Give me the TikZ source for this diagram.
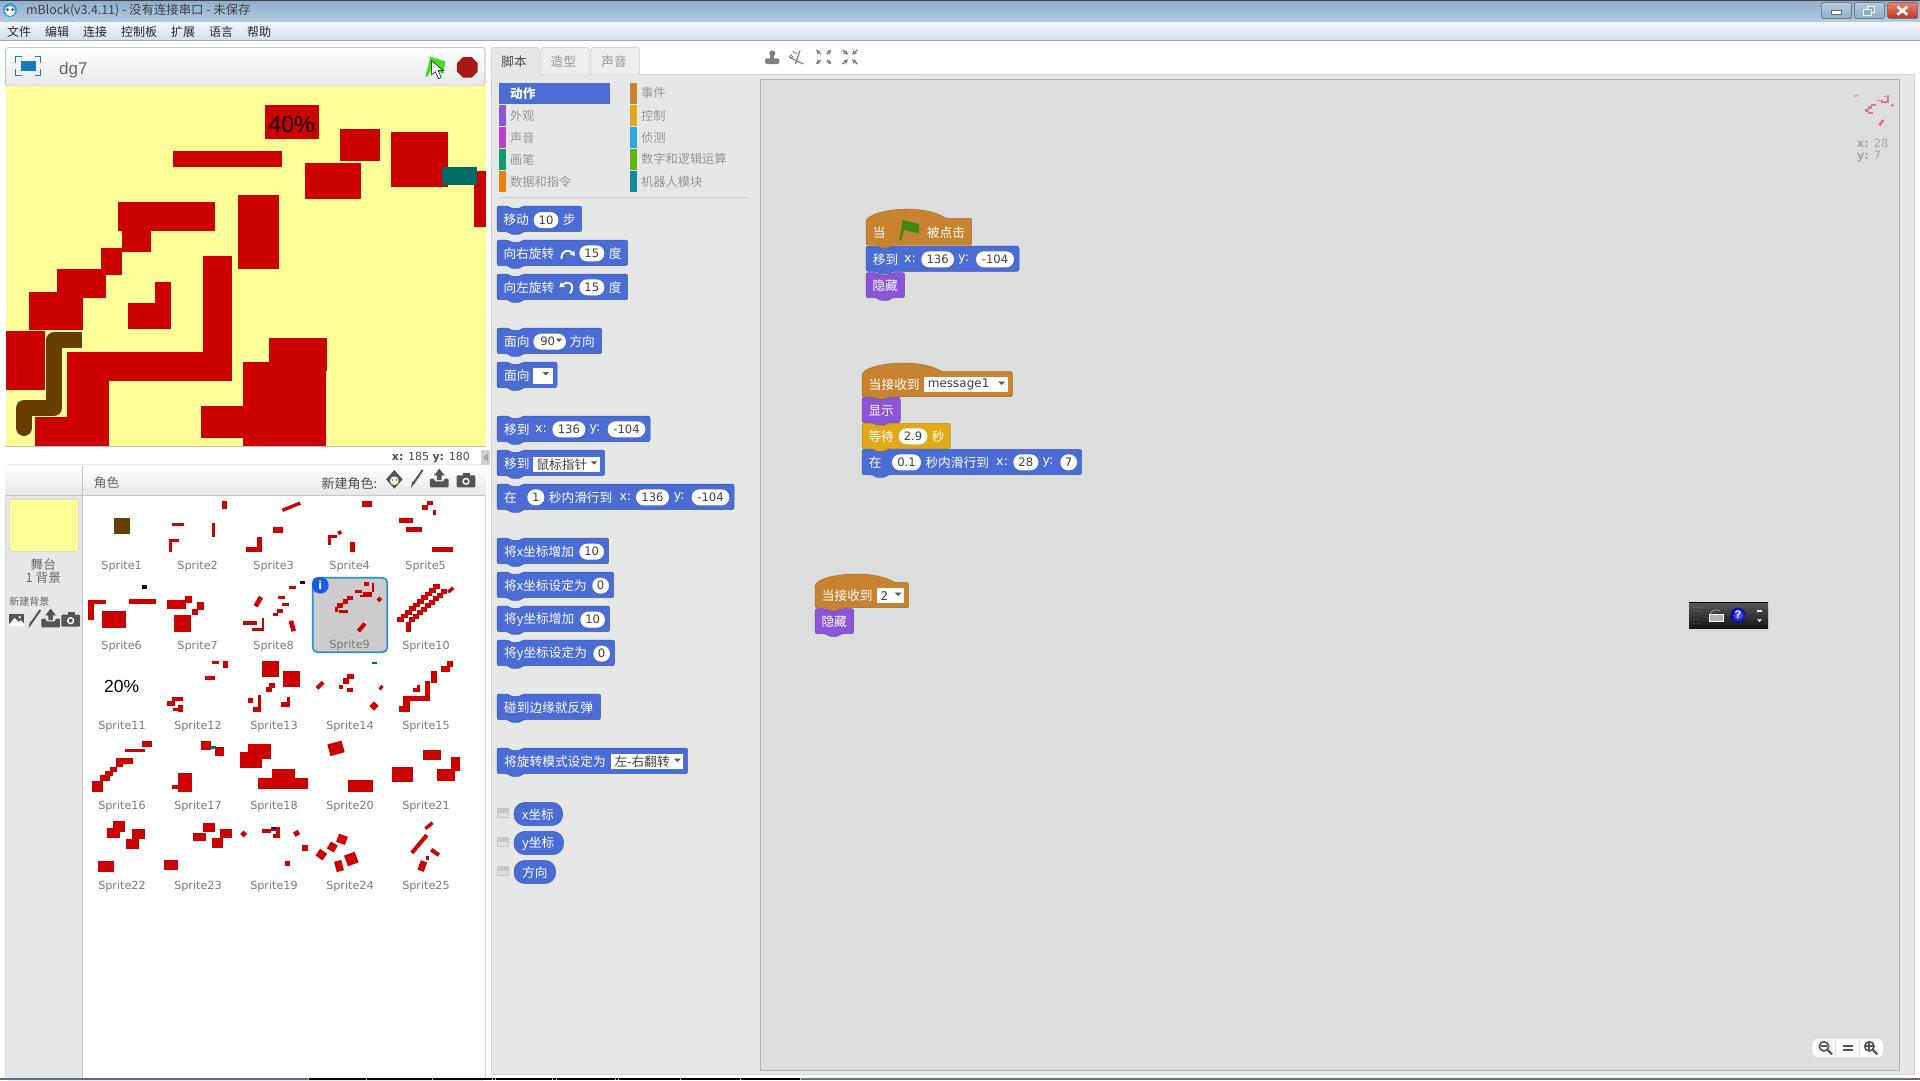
\documentclass[tikz,border=0pt]{standalone}
\usepackage{fontspec}
\usetikzlibrary{arrows.meta}
\setmainfont{Noto Sans CJK SC}
\newfontfamily\lat{Liberation Sans}
\newfontfamily\dej{DejaVu Sans}
\definecolor{mot}{HTML}{4A6CD4}
\definecolor{lok}{HTML}{8A55D7}
\definecolor{snd}{HTML}{BB42C3}
\definecolor{pen}{HTML}{0E9A6C}
\definecolor{dat}{HTML}{EE7D16}
\definecolor{evt}{HTML}{C88330}
\definecolor{ctl}{HTML}{E1A91A}
\definecolor{sns}{HTML}{2CA5E2}
\definecolor{ops}{HTML}{5CB712}
\definecolor{rob}{HTML}{0E8A99}
\definecolor{rd}{HTML}{CC0000}
\definecolor{stg}{HTML}{FFFF99}
\definecolor{pal}{HTML}{E6E8E8}
\definecolor{pane}{HTML}{DCDEDE}
\definecolor{brn}{HTML}{663F00}
\definecolor{tl}{HTML}{006A66}
\definecolor{gt}{HTML}{7A7A7A}
\definecolor{ic}{HTML}{555555}
\definecolor{tool}{HTML}{808080}
\definecolor{catg}{HTML}{959595}
\definecolor{tba}{HTML}{8FAECB}
\definecolor{tbb}{HTML}{B4CBE0}
\definecolor{mna}{HTML}{F2F5FB}
\definecolor{mnb}{HTML}{D5DEED}
\definecolor{mini}{HTML}{D87A88}
\definecolor{cla}{HTML}{E8806A}
\definecolor{clb}{HTML}{B83A2A}
\definecolor{flaga}{HTML}{44DD22}
\definecolor{flagb}{HTML}{3C8A14}
\definecolor{stopc}{HTML}{A81818}
\definecolor{fscr}{HTML}{1878C0}
\definecolor{bota}{HTML}{5A6E85}
\newcounter{nn}
\tikzset{
  zm/.style 2 args={shift={(#1pt,-#2pt)},x=0.33333pt,y=-0.33333pt},
  txt/.style={inner sep=0pt,anchor=west,text=white,font=\fontsize{12.7}{13}\selectfont},
  lbl/.style={inner sep=0pt,text=gt,font=\dej\fontsize{11.2}{12}\selectfont},
  num/.style={inner sep=0pt,text=black!75,font=\dej\fontsize{11.6}{12}\selectfont},
  cat/.style={txt,text=catg},
  lat/.style={font=\dej\fontsize{12.6}{13}\selectfont},
  rotarrow/.style={white,line width=2pt,-{Stealth[length=5pt,width=6.5pt]}},
  toolar/.style={tool,line width=1.5pt,-{Stealth[length=4.5pt,width=5pt]}},
}
\newcommand\tx[4][]{\stepcounter{nn}\node[txt,#1] (t\thenn) at (#2,#3) {#4};}
\newcommand\lab[3]{\stepcounter{nn}\node[lbl] (t\thenn) at (#1,#2+3) {#3};}
\newcommand\blk[5]{\filldraw[fill=#1,draw=#1!82!black,line width=.5pt,rounded corners=2.2pt]
  (#2,#3)--(#2+33,#3)--(#2+42,#3+7)--(#2+69,#3+7)--(#2+78,#3)--(#4,#3)--(#4,#5)
  --(#2+78,#5)--(#2+69,#5+8)--(#2+42,#5+8)--(#2+33,#5)--(#2,#5)--cycle;}
\newcommand\hatblk[6]{\filldraw[fill=#1,draw=#1!82!black,line width=.5pt,rounded corners=1.5pt]
  (#2,#5-6)--(#2,#3+8)..controls(#2+22,#6+2)and(#2+170,#6-14)..(#2+240,#3)--(#4,#3)--(#4,#5)
  --(#2+78,#5)--(#2+69,#5+8)--(#2+42,#5+8)--(#2+33,#5)--(#2,#5)--cycle;}
\newcommand\pl[4]{\fill[white,rounded corners=7.9pt](#1,#3-24)rectangle(#2,#3+24);
  \stepcounter{nn}\node[num] (t\thenn) at ({(#1+#2)/2},#3) {#4};}
\newcommand\dd[5]{\fill[white](#1,#3)rectangle(#2,#4);\stepcounter{nn}\node[txt,text=black!75] (t\thenn) at (#1+10,{(#3+#4)/2}) {#5};
  \fill[ic](#2-28,{(#3+#4)/2-9})--(#2-8,{(#3+#4)/2-9})--(#2-18,{(#3+#4)/2+1})--cycle;}
\newcommand\rep[4]{\fill[gray!45](#1-50,#2+18)rectangle(#1-15,#2+48);\fill[gray!25](#1-47,#2+33)rectangle(#1-18,#2+45);
  \filldraw[fill=mot,draw=mot!82!black,line width=.5pt,rounded corners=11pt](#1,#2)rectangle(#3,#2+70);
  \stepcounter{nn}\node[txt] (t\thenn) at (#1+24,#2+36) {#4};}
\newcommand\rr[4]{\fill[rd](#1,#2)rectangle(#3,#4);}
\newcommand\rs[5]{\fill[rd,rotate around={#5:(#1,#2)}](#1-#3/2,#2-#4/2)rectangle(#1+#3/2,#2+#4/2);}
\newcommand\camera[2]{\fill[ic,rounded corners=1pt](#1-28,#2-14)rectangle(#1+28,#2+22);\fill[ic](#1-8,#2-22)rectangle(#1+12,#2-12);\fill[white](#1,#2+4)circle(11);\fill[ic](#1,#2+4)circle(6);}
\newcommand\upl[2]{\fill[ic,rounded corners=1pt](#1-28,#2)--(#1-14,#2)--(#1-14,#2+8)--(#1+14,#2+8)--(#1+14,#2)--(#1+28,#2)--(#1+28,#2+26)--(#1-28,#2+26)--cycle;\fill[ic](#1,#2-30)--(#1+16,#2-10)--(#1+7,#2-10)--(#1+7,#2+4)--(#1-7,#2+4)--(#1-7,#2-10)--(#1-16,#2-10)--cycle;}
\newcommand\penic[2]{\draw[ic,line width=2pt](#1+18,#2-28)--(#1-10,#2+12);\fill[ic](#1-13,#2+6)--(#1-6,#2+12)--(#1-17,#2+26)--cycle;}
\newcommand\paint[2]{\fill[ic](#1-23,#2-18)rectangle(#1+23,#2+18);\fill[white](#1-23,#2+14)--(#1-6,#2-6)--(#1+6,#2+6)--(#1+12,#2)--(#1+23,#2+12)--(#1+23,#2+18)--(#1-23,#2+18)--cycle;\fill[white](#1+9,#2-9)circle(4);}
\begin{document}
\begin{tikzpicture}[x=1pt,y=-1pt]
\useasboundingbox (0,0) rectangle (1920,1080);
\fill[white](0,0)rectangle(1920,1080);
% ---------- title bar
\shade[top color=tba,bottom color=tbb,shading angle=0](0,0)rectangle(1920,22);
\fill[black!75](0,0)rectangle(1920,1);
\shade[top color=mna,bottom color=mnb](0,22)rectangle(1920,40);
\fill[gray!70](0,40)rectangle(1920,41);
\fill[sns](10,10)circle(7);\fill[white](10,11)circle(5);\fill[black!70](7.5,9.5)circle(1.5);\fill[black!70](12.5,9.5)circle(1.5);
\tx[text=black!75,font=\fontsize{12.4}{13}\selectfont]{26}{10.5}{mBlock(v3.4.11) - 没有连接串口 - 未保存}
\tx[text=black!85,font=\fontsize{12}{13}\selectfont]{7}{32}{文件}
\tx[text=black!85,font=\fontsize{12}{13}\selectfont]{45}{32}{编辑}
\tx[text=black!85,font=\fontsize{12}{13}\selectfont]{83}{32}{连接}
\tx[text=black!85,font=\fontsize{12}{13}\selectfont]{121}{32}{控制板}
\tx[text=black!85,font=\fontsize{12}{13}\selectfont]{171}{32}{扩展}
\tx[text=black!85,font=\fontsize{12}{13}\selectfont]{209}{32}{语言}
\tx[text=black!85,font=\fontsize{12}{13}\selectfont]{247}{32}{帮助}
% window buttons
\begin{scope}[zm={1660}{0}]
\filldraw[draw=black!55,top color=tbb,bottom color=tba,line width=.5pt,rounded corners=1.5pt](484,8)rectangle(575,55);
\filldraw[draw=black!55,top color=tbb,bottom color=tba,line width=.5pt,rounded corners=1.5pt](583,8)rectangle(673,55);
\filldraw[draw=black!55,top color=cla,bottom color=clb,line width=.5pt,rounded corners=1.5pt](683,8)rectangle(773,55);
\filldraw[fill=white,draw=black!60,line width=.4pt](514,32)rectangle(545,44);
\draw[white,line width=1pt,fill=tba](622,18)rectangle(644,36);
\draw[white,line width=1pt,fill=tba](611,28)rectangle(633,46);
\draw[white,line width=2.6pt](712,20)--(742,44);\draw[white,line width=2.6pt](742,20)--(712,44);
\end{scope}
% ---------- stage
\filldraw[draw=gray!45,line width=.6pt,top color=white,bottom color=pal,rounded corners=3pt](5.5,86)--(5.5,47.5)--(485,47.5)--(485,86)--cycle;
\begin{scope}[zm={0}{0}]
\fill[stg](18,258)rectangle(1458,1338);
\draw[gray!50,line width=.6pt](16,1339)--(1458,1339);
\fill[fscr](62,182)rectangle(108,214);
\draw[fscr,line width=1pt](48,188)--(48,170)--(66,170) (104,170)--(122,170)--(122,188) (48,208)--(48,226)--(66,226) (104,226)--(122,226)--(122,208);
\stepcounter{nn}\node[inner sep=0pt,text=black!60,font=\lat\fontsize{17}{18}\selectfont] (t\thenn) at (220,210) {dg7};
\fill[flaga](1276,230)--(1291,170)--(1336,184)--(1330,222)--(1296,205)--(1282,230)--cycle;
\filldraw[fill=white,draw=black,line width=.5pt](1295,182)--(1295,224)--(1306,215)--(1316,236)--(1324,232)--(1314,212)--(1330,212)--cycle;
\fill[stopc](1389,171)--(1415,171)--(1433,189)--(1433,215)--(1415,233)--(1389,233)--(1371,215)--(1371,189)--cycle;
% red shapes
\rr{795}{315}{958}{416}\rr{520}{452}{847}{500}\rr{1020}{387}{1140}{482}\rr{915}{489}{1083}{596}\rr{1173}{395}{1344}{562}
\rr{1422}{513}{1458}{680}\rr{355}{606}{646}{692}\rr{714}{585}{836}{806}\rr{365}{690}{454}{755}\rr{304}{744}{367}{825}
\rr{172}{807}{319}{894}\rr{88}{876}{250}{990}\rr{18}{993}{136}{1169}\rr{465}{846}{513}{987}\rr{384}{910}{513}{987}
\rr{609}{768}{696}{1142}\rr{201}{1056}{696}{1142}\rr{201}{1142}{327}{1338}\rr{105}{1251}{327}{1338}
\rr{807}{1014}{981}{1112}\rr{729}{1086}{977}{1338}\rr{604}{1217}{729}{1314}
\fill[tl](1326,501)rectangle(1431,554);
\draw[brn,line width=16pt,line join=round](245,1021)--(162,1021)--(162,1224)--(72,1224)--(72,1284);
\fill[brn](72,1284)circle(24);
\stepcounter{nn}\node[inner sep=0pt,text=black,font=\lat\fontsize{23}{24}\selectfont] (t\thenn) at (875,374) {40\%};
\end{scope}
\stepcounter{nn}\node[inner sep=0pt,anchor=east,text=black!70,font=\dej\fontsize{11}{12}\selectfont] (t\thenn) at (470,458) {\textbf{x:} 185\ \textbf{y:} 180};
\fill[gray!35,rounded corners=1pt](481,450)rectangle(490,465);\fill[gray!70](483,457.5)--(488,453)--(488,462)--cycle;
% ---------- sprite panel
\begin{scope}[zm={0}{460}]
\filldraw[draw=gray!45,line width=.6pt,fill=white,rounded corners=3pt](16,1860)--(16,15)--(1457,15)--(1457,1860)--cycle;
\shade[top color=white,bottom color=pal](17,17)rectangle(1456,106);
\fill[pal](17,107)rectangle(247,1858);
\draw[gray!45,line width=.6pt](17,107)--(1456,107);\draw[gray!45,line width=.6pt](248,17)--(248,1858);
\filldraw[fill=stg,draw=gray!35,line width=.6pt,rounded corners=1pt](28,118)rectangle(236,274);
\stepcounter{nn}\node[inner sep=0pt,text=black!60,font=\fontsize{12.7}{13}\selectfont] (t\thenn) at (320,67) {角色};
\stepcounter{nn}\node[inner sep=0pt,text=black!70,font=\fontsize{13}{14}\selectfont] (t\thenn) at (1048,70) {新建角色:};
\stepcounter{nn}\node[inner sep=0pt,text=black!60,font=\fontsize{12.7}{13}\selectfont] (t\thenn) at (130,315) {舞台};
\stepcounter{nn}\node[inner sep=0pt,text=black!60,font=\fontsize{12.7}{13}\selectfont] (t\thenn) at (130,352) {1 背景};
\stepcounter{nn}\node[inner sep=0pt,text=black!60,font=\fontsize{10}{11}\selectfont] (t\thenn) at (88,425) {新建背景};
\fill[ic](1183,30)--(1208,58)--(1183,86)--(1158,58)--cycle;\fill[white!85!yellow](1183,62)circle(13);\fill[ic](1178,60)circle(2.5);\fill[ic](1189,60)circle(2.5);
\penic{1250}{58}\upl{1318}{56}\camera{1398}{60}
\paint{50}{480}\penic{103}{478}\upl{152}{476}\camera{212}{478}
% thumbnail labels
\foreach \xx/\yy/\ss in {365/317/Sprite1,593/317/Sprite2,821/317/Sprite3,1049/317/Sprite4,1277/317/Sprite5,
365/557/Sprite6,593/557/Sprite7,821/557/Sprite8,1278/557/Sprite10,
366/797/Sprite11,594/797/Sprite12,822/797/Sprite13,1050/797/Sprite14,1278/797/Sprite15,
366/1037/Sprite16,594/1037/Sprite17,822/1037/Sprite18,1050/1037/Sprite20,1278/1037/Sprite21,
366/1277/Sprite22,594/1277/Sprite23,822/1277/Sprite19,1050/1277/Sprite24,1278/1277/Sprite25}{\lab{\xx}{\yy}{\ss}}
% sprite1
\fill[brn](341,174)rectangle(390,223);
% sprite2
\rr{666}{122}{682}{146}\rr{516}{188}{553}{197}\rr{636}{190}{644}{230}\rr{507}{238}{537}{247}\rr{507}{238}{516}{276}
% sprite3
\rs{874}{140}{58}{10}{22}\rr{820}{202}{848}{220}\rr{739}{262}{786}{276}\rr{770}{232}{786}{276}
% sprite4
\rr{1087}{122}{1116}{142}\rs{1019}{218}{11}{11}{30}\rr{985}{226}{1012}{233}\rr{985}{226}{992}{255}\rr{1050}{246}{1064}{276}
% sprite5
\rr{1280}{123}{1298}{135}\rr{1265}{135}{1285}{150}\rr{1298}{150}{1309}{165}\rr{1198}{174}{1238}{188}\rr{1217}{201}{1266}{215}\rr{1297}{260}{1358}{276}
% sprite6
\fill[black](425,375)rectangle(441,386);\rr{388}{416}{468}{433}\rr{264}{420}{318}{432}\rr{264}{420}{281}{480}\rr{307}{453}{377}{503}
% sprite7
\rr{500}{421}{558}{446}\rr{556}{408}{576}{430}\rr{590}{427}{613}{449}\rr{575}{446}{595}{465}\rr{521}{464}{573}{516}
% sprite8
\fill[black!70!red](900,362)rectangle(915,372);\rr{866}{378}{888}{386}\rs{775}{425}{32}{14}{60}\rr{834}{408}{854}{417}\rr{846}{430}{867}{439}\rr{830}{448}{850}{458}\rr{818}{458}{833}{469}\rr{729}{484}{770}{495}\rr{785}{475}{793}{512}\rr{757}{505}{793}{513}\rs{877}{498}{14}{32}{15}
% sprite9 selected
\filldraw[fill=black!20,draw=sns!90!black,line width=1.7pt,rounded corners=5pt](938,353)rectangle(1162,577);
\fill[blue!45!sns](961,376)circle(25);
\stepcounter{nn}\node[inner sep=0pt,text=white,font=\dej\bfseries\fontsize{11}{12}\selectfont] (t\thenn) at (961,376) {i};
\lab{1049}{554}{Sprite9}
\rr{1092}{367}{1107}{378}\rr{1115}{370}{1123}{395}\rr{1066}{390}{1086}{398}\rr{1090}{395}{1115}{410}\rr{1081}{405}{1095}{412}
\rr{1040}{408}{1058}{420}\rr{1028}{418}{1045}{432}\rr{1012}{430}{1030}{445}\rr{1004}{440}{1014}{455}\rr{1018}{450}{1043}{458}
\rs{1138}{418}{12}{12}{45}\rs{1085}{502}{30}{12}{50}
% sprite10
\foreach \ii in {0,...,9}{\fill[rd]({1192+\ii*12},{472-\ii*11})rectangle({1212+\ii*12},{486-\ii*11});}
\foreach \ii in {0,...,8}{\fill[rd]({1227+\ii*12},{472-\ii*10.5})rectangle({1245+\ii*12},{486-\ii*10.5});}
\rr{1217}{485}{1232}{516}\rs{1352}{390}{20}{10}{40}
% sprite11
\stepcounter{nn}\node[inner sep=0pt,text=black,font=\lat\fontsize{17.5}{18}\selectfont] (t\thenn) at (365,680) {20\%};
% sprite12
\rr{635}{603}{658}{612}\rr{669}{602}{684}{624}\rr{615}{649}{645}{659}\rr{516}{712}{548}{724}\rr{502}{722}{525}{738}\rr{533}{735}{548}{756}\rr{519}{745}{535}{752}
% sprite13
\rr{786}{603}{838}{652}\rr{849}{633}{900}{681}\rr{808}{670}{825}{685}\rr{798}{682}{815}{695}\rr{743}{715}{760}{728}\rr{775}{706}{783}{755}\rr{760}{740}{780}{755}\rr{843}{725}{870}{742}\rr{860}{712}{870}{730}
% sprite14
\fill[tl](1115,605)rectangle(1130,613);\rs{960}{676}{26}{12}{45}\rr{1040}{642}{1062}{658}\rr{1028}{655}{1048}{672}\rr{1016}{675}{1030}{687}\rr{1040}{683}{1058}{697}\rs{1143}{683}{14}{9}{50}\rs{1122}{738}{20}{20}{45}
% sprite15
\rr{1340}{603}{1360}{620}\rr{1323}{618}{1350}{636}\rr{1292}{634}{1312}{668}\rr{1275}{664}{1289}{722}\rr{1210}{708}{1289}{722}\rr{1210}{708}{1230}{740}\rr{1196}{738}{1230}{755}\rr{1240}{685}{1260}{697}\rr{1250}{675}{1260}{690}
% sprite16
\rr{427}{843}{456}{862}\rr{376}{867}{436}{877}\rr{348}{895}{400}{911}\rr{348}{905}{368}{920}\rr{330}{920}{350}{935}\rr{315}{932}{340}{948}\rr{300}{945}{330}{962}\rr{276}{964}{309}{997}
% sprite17
\rr{604}{842}{633}{870}\rr{644}{862}{672}{889}\fill[tl](630,858)rectangle(648,866);\rr{535}{940}{575}{995}\rr{515}{975}{540}{988}
% sprite18
\rr{745}{851}{813}{897}\rr{720}{875}{786}{925}\rr{815}{927}{885}{960}\rr{775}{954}{925}{988}
% sprite20
\rs{1008}{865}{44}{36}{15}\rr{1043}{961}{1119}{996}
% sprite21
\rr{1268}{871}{1323}{901}\rr{1176}{921}{1239}{967}\rr{1311}{928}{1365}{962}\rr{1352}{891}{1380}{934}
% sprite22
\rr{340}{1083}{375}{1115}\rr{321}{1103}{360}{1134}\rr{396}{1106}{435}{1136}\rr{378}{1136}{416}{1167}\rr{295}{1204}{342}{1237}
% sprite23
\rr{610}{1088}{644}{1115}\rr{580}{1120}{617}{1142}\rr{660}{1108}{696}{1134}\rr{636}{1134}{670}{1163}\rr{491}{1201}{533}{1229}
% sprite19
\rs{731}{1122}{15}{15}{45}\rr{786}{1106}{812}{1120}\rr{812}{1102}{840}{1112}\rr{828}{1110}{840}{1134}\rr{820}{1122}{838}{1134}\fill[blue!60!black](815,1100)rectangle(828,1108);\rs{890}{1120}{16}{15}{30}\rr{907}{1156}{924}{1172}\rr{854}{1202}{871}{1218}
% sprite24
\rs{1026}{1138}{28}{26}{-20}\rs{997}{1161}{24}{24}{-30}\rs{964}{1184}{26}{24}{-35}\rs{1017}{1218}{22}{32}{15}\rs{1054}{1197}{34}{34}{20}
% sprite25
\rs{1287}{1097}{28}{10}{40}\rs{1258}{1152}{70}{12}{50}\rs{1305}{1177}{28}{12}{-35}\rr{1277}{1188}{1288}{1199}\rs{1267}{1218}{20}{30}{-20}
\end{scope}
% ---------- scripts area background
\filldraw[fill=pal,draw=gray!35,line width=.6pt](491,74.5)rectangle(1914,1074);
\filldraw[fill=pane,draw=gray!60,line width=.6pt](760.5,79.5)rectangle(1899,1070);
\fill[white](491,41)rectangle(1915,74);
% bottom edge
\fill[bota](0,1078)rectangle(1920,1080);
\fill[black](308,1078)rectangle(800,1079.5);
\foreach \dv in {308,366,432,492,495,552,556,615,618,680,740,800}{\fill[gray!60](\dv,1078)rectangle(\dv+1,1080);}
% ---------- palette top
\begin{scope}[zm={490}{40}]
\draw[gray!40,line width=.6pt](3,104)--(1280,104);
\filldraw[fill=pal,draw=gray!40,line width=.6pt,rounded corners=3pt](3,105)--(3,22)--(148,22)--(148,105);
\filldraw[fill=pal!70!white,draw=gray!40,line width=.6pt,rounded corners=3pt](153,104)--(153,22)--(298,22)--(298,104);
\filldraw[fill=pal!70!white,draw=gray!40,line width=.6pt,rounded corners=3pt](303,104)--(303,22)--(448,22)--(448,104);
\fill[pal](4,100)rectangle(147,106);
\stepcounter{nn}\node[inner sep=0pt,text=black!70,font=\fontsize{12.7}{13}\selectfont] (t\thenn) at (72,65) {脚本};
\stepcounter{nn}\node[inner sep=0pt,text=catg,font=\fontsize{12.7}{13}\selectfont] (t\thenn) at (220,65) {造型};
\stepcounter{nn}\node[inner sep=0pt,text=catg,font=\fontsize{12.7}{13}\selectfont] (t\thenn) at (372,65) {声音};
% categories
\fill[mot](27,129)rectangle(360,192);
\fill[lok](27,195)rectangle(48,258);\fill[snd](27,261)rectangle(48,324);\fill[pen](27,327)rectangle(48,390);\fill[dat](27,393)rectangle(48,456);
\fill[evt](420,129)rectangle(441,192);\fill[ctl](420,195)rectangle(441,258);\fill[sns](420,261)rectangle(441,324);\fill[ops](420,327)rectangle(441,390);\fill[rob](420,393)rectangle(441,456);
\tx[font=\bfseries\fontsize{12.7}{13}\selectfont]{60}{160}{动作}
\tx[cat,font=\fontsize{12.2}{13}\selectfont]{60}{227}{外观}\tx[cat,font=\fontsize{12.2}{13}\selectfont]{60}{293}{声音}\tx[cat,font=\fontsize{12.2}{13}\selectfont]{60}{358}{画笔}\tx[cat,font=\fontsize{12.2}{13}\selectfont]{60}{425}{数据和指令}
\tx[cat,font=\fontsize{12.2}{13}\selectfont]{453}{160}{事件}\tx[cat,font=\fontsize{12.2}{13}\selectfont]{453}{227}{控制}\tx[cat,font=\fontsize{12.2}{13}\selectfont]{453}{293}{侦测}\tx[cat,font=\fontsize{12.2}{13}\selectfont]{453}{358}{数字和逻辑运算}\tx[cat,font=\fontsize{12.2}{13}\selectfont]{453}{425}{机器人模块}
\draw[gray!40,line width=.6pt](27,472)--(776,472);
% blocks
\blk{mot}{21}{498}{275}{575}\tx{40}{538}{移动}\pl{131}{205}{540}{10}\tx{218}{538}{步}
\blk{mot}{21}{600}{413}{677}\tx{40}{640}{向右旋转}\pl{268}{343}{640}{15}\tx{356}{640}{度}
\draw[rotarrow](214,656)..controls(216,628)and(238,626)..(254,648);
\blk{mot}{21}{702}{413}{779}\tx{40}{742}{向左旋转}\pl{268}{343}{742}{15}\tx{356}{742}{度}
\draw[rotarrow](240,760)..controls(258,735)and(236,718)..(208,742);
\blk{mot}{21}{864}{335}{941}\tx{42}{904}{面向}\pl{130}{228}{905}{90\,\,}\fill[ic](198,896)--(216,896)--(207,906)--cycle;\tx{238}{904}{方向}
\blk{mot}{21}{966}{201}{1043}\tx{42}{1006}{面向}\fill[white](129,985)rectangle(189,1032);\fill[ic](158,996)--(177,996)--(167,1006)--cycle;
\blk{mot}{21}{1128}{480}{1205}\tx{42}{1168}{移到}\tx[lat]{135}{1168}{x:}\pl{187}{286}{1168}{136}\tx[lat]{298}{1168}{y:}\pl{353}{466}{1168}{-104}
\blk{mot}{21}{1230}{344}{1307}\tx{42}{1270}{移到}\dd{129}{330}{1250}{1296}{鼠标指针}
\end{scope}
\begin{scope}[zm={490}{470}]
\blk{mot}{21}{42}{732}{119}\tx{42}{82}{在}\pl{112}{163}{82}{1}\tx{176}{82}{秒内滑行到}\tx[lat]{388}{82}{x:}\pl{438}{537}{82}{136}\tx[lat]{551}{82}{y:}\pl{605}{718}{82}{-104}
\blk{mot}{21}{204}{356}{281}\tx{42}{244}{将x坐标增加}\pl{268}{342}{245}{10}
\blk{mot}{21}{306}{371}{383}\tx{42}{346}{将x坐标设定为}\pl{307}{357}{347}{0}
\blk{mot}{21}{408}{359}{485}\tx{42}{448}{将y坐标增加}\pl{271}{345}{449}{10}
\blk{mot}{21}{510}{374}{587}\tx{42}{550}{将y坐标设定为}\pl{310}{360}{551}{0}
\blk{mot}{21}{672}{332}{749}\tx{42}{712}{碰到边缘就反弹}
\blk{mot}{21}{834}{593}{911}\tx{42}{874}{将旋转模式设定为}\dd{363}{580}{852}{898}{左-右翻转}
\rep{72}{997}{218}{x坐标}\rep{72}{1084}{221}{y坐标}\rep{72}{1171}{197}{方向}
\end{scope}
% ---------- toolbar icons
\begin{scope}[zm={750}{40}]
\fill[tool](67,40)circle(9);\fill[tool](61,40)rectangle(73,56);\fill[tool,rounded corners=1.5pt](45,55)rectangle(88,72);
\draw[tool,line width=1.2pt](125,55)--(160,72)(136,72)--(150,32);\draw[tool,line width=1pt](123,50)circle(5);\draw[tool,line width=1pt](140,42)--(128,34);
\draw[toolar](212,42)--(198,30);\draw[toolar](230,42)--(244,30);\draw[toolar](212,60)--(198,72);\draw[toolar](230,60)--(244,72);
\draw[toolar](278,30)--(294,44);\draw[toolar](322,30)--(306,44);\draw[toolar](278,72)--(294,58);\draw[toolar](322,72)--(306,58);
\end{scope}
% ---------- scripts
\begin{scope}[zm={790}{190}]
\hatblk{evt}{228}{85}{545}{165}{55}\tx{248}{128}{当}
\fill[flagb](328,150)--(338,90)--(388,102)--(386,130)--(342,120)--(334,150)--cycle;
\tx{410}{128}{被点击}
\blk{mot}{228}{168}{687}{244}\tx{248}{208}{移到}\tx[lat]{342}{208}{x:}\pl{394}{492}{208}{136}\tx[lat]{504}{208}{y:}\pl{558}{672}{208}{-104}
\blk{lok}{228}{248}{344}{323}\tx{247}{287}{隐藏}
\hatblk{evt}{216}{545}{667}{620}{517}\tx{236}{584}{当接收到}\dd{403}{653}{561}{607}{\dej\fontsize{12}{13}\selectfont message1}
\blk{lok}{216}{622}{331}{698}\tx{235}{662}{显示}
\blk{ctl}{216}{700}{481}{776}\tx{235}{739}{等待}\pl{326}{412}{739}{2.9}\tx{425}{739}{秒}
\blk{mot}{216}{778}{875}{854}\tx{236}{817}{在}\pl{306}{393}{817}{0.1}\tx{406}{817}{秒内滑行到}\tx[lat]{618}{817}{x:}\pl{670}{745}{817}{28}\tx[lat]{757}{817}{y:}\pl{811}{861}{817}{7}
\hatblk{evt}{75}{1178}{356}{1253}{1150}\tx{95}{1216}{当接收到}\dd{261}{342}{1194}{1240}{\dej\fontsize{12}{13}\selectfont 2}
\blk{lok}{75}{1256}{191}{1331}\tx{94}{1295}{隐藏}
\end{scope}
% ---------- mini sprite + coords
\begin{scope}[zm={1660}{0}]
\fill[mini](584,286)--(592,284)--(593,288)--(585,291)--cycle;
\fill[mini](672,288)rectangle(678,292);\fill[mini](680,286)rectangle(686,310);\fill[mini](652,299)rectangle(668,303);\fill[mini](664,304)rectangle(680,310);
\fill[mini](634,312)rectangle(648,319);\fill[mini](625,318)rectangle(637,326);\fill[mini](616,326)rectangle(626,336);\fill[mini](625,336)rectangle(638,341);
\fill[mini](697,316)circle(5);\fill[mini,rotate around={55:(664,368)}](654,364)rectangle(674,372);
\stepcounter{nn}\node[inner sep=0pt,anchor=west,text=gray!70,font=\dej\fontsize{11.5}{12}\selectfont] (t\thenn) at (590,431) {\textbf{x:} 28};
\stepcounter{nn}\node[inner sep=0pt,anchor=west,text=gray!70,font=\dej\fontsize{11.5}{12}\selectfont] (t\thenn) at (590,470) {\textbf{y:} 7};
\end{scope}
% ---------- IME bar
\begin{scope}[zm={1660}{580}]
\shade[top color=black!65,bottom color=black!92](87,66)rectangle(324,144);
\fill[black](87,66)rectangle(324,69);
\foreach \px/\py in {102/83,112/83,122/83,102/95,112/95,122/95,102/105,117/105,102/118,112/118,102/130,117/130}{\fill[gray!70](\px,\py)circle(1.4);}
\filldraw[fill=gray!60,draw=white!80,line width=.4pt](147,102)rectangle(189,124);
\draw[gray!60,line width=.6pt](150,100)..controls(160,88)and(170,88)..(180,92);
\shade[inner color=blue!55,outer color=blue!70!black](234,105)circle(22);
\stepcounter{nn}\node[inner sep=0pt,text=white,font=\lat\bfseries\fontsize{11}{12}\selectfont] (t\thenn) at (234,105) {?};
\fill[white](291,90)rectangle(306,96);\fill[white](291,118)--(306,118)--(298.5,126)--cycle;
\end{scope}
% ---------- zoom controls
\begin{scope}[zm={1780}{1020}]
\fill[white!90!pane,rounded corners=6pt](97,56)rectangle(310,112);
\draw[gray!25,line width=.5pt](167,58)--(167,110)(238,58)--(238,110);
\draw[ic,line width=1.7pt](132,79)circle(14);\draw[ic,line width=2.2pt](142,89)--(156,103);\fill[ic](122,76)rectangle(142,82);
\fill[ic](188,74)rectangle(220,80);\fill[ic](188,88)rectangle(220,94);
\draw[ic,line width=1.7pt](268,79)circle(14);\draw[ic,line width=2.2pt](278,89)--(292,103);\fill[ic](258,76)rectangle(278,82);\fill[ic](265,69)rectangle(271,89);
\end{scope}
\end{tikzpicture}
\end{document}
